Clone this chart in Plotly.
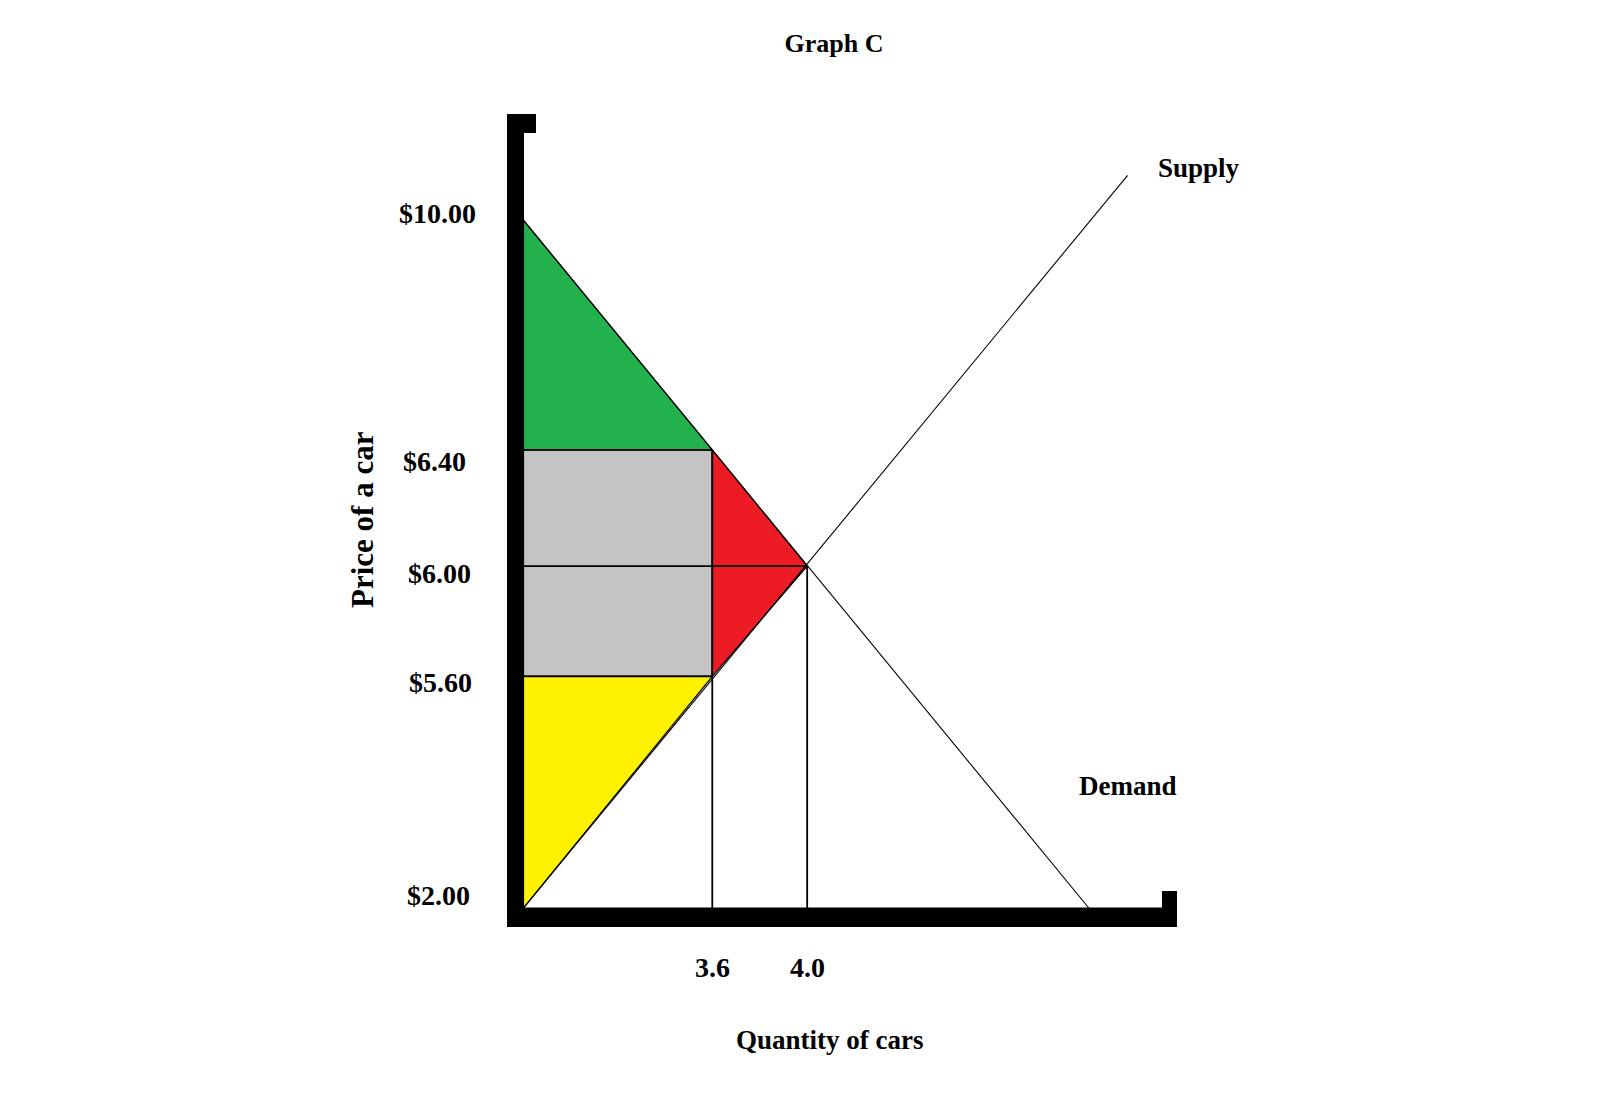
import plotly.graph_objects as go

# ---- data (schematic chart positions) ----
price_labels = ["$2.00", "$5.60", "$6.00", "$6.40", "$10.00"]
price_pos = [0.0, 2.27, 3.35, 4.49, 6.74]
qty_labels = ["3.6", "4.0"]
qty_pos = [1.85, 2.78]
demand_x = [0.0, 5.54]
demand_y = [6.74, 0.0]
supply_x = [0.0, 5.92]
supply_y = [0.0, 7.18]

p_lo, p_q36s, p_eq, p_q36d, p_top = price_pos
q36, q40 = qty_pos

W, H = 1600, 1093
PX = 102.04          # pixels per chart unit
X0, Y0 = 523.5, 908  # pixel location of origin
xr = [(0 - X0) / PX, (W - X0) / PX]
yr = [(Y0 - H) / PX, Y0 / PX]

FONT = "Liberation Serif"
fig = go.Figure()

def poly(xs, ys, color):
    fig.add_trace(go.Scatter(x=xs + [xs[0]], y=ys + [ys[0]], mode="lines", fill="toself",
                             fillcolor=color, line=dict(color="black", width=1.2),
                             hoverinfo="skip", showlegend=False))

# consumer surplus (green)
poly([0, q36, 0], [p_top, p_q36d, p_q36d], "#22B14C")
# gray rectangle
poly([0, q36, q36, 0], [p_q36s, p_q36s, p_q36d, p_q36d], "#C3C3C3")
# deadweight loss (red)
poly([q36, q40, q36], [p_q36d, p_eq, p_q36s], "#ED1C24")
# producer surplus (yellow)
poly([0, q36, 0], [p_q36s, p_q36s, p_lo], "#FFF200")

def seg(xs, ys, w=1.8):
    fig.add_trace(go.Scatter(x=xs, y=ys, mode="lines", line=dict(color="black", width=w),
                             hoverinfo="skip", showlegend=False))

seg([0, q40], [p_eq, p_eq])
seg([q36, q36], [p_lo, p_q36d])
seg([q40, q40], [p_lo, p_eq])
seg([0, q36], [p_q36d, p_q36d])
seg([0, q36], [p_q36s, p_q36s])
seg(demand_x, demand_y, 1.1)
seg(supply_x, supply_y, 1.1)

# thick axis frame
def u(px):
    return (px - X0) / PX

def v(py):
    return (Y0 - py) / PX

shapes = [
    dict(x0=u(507), x1=u(524), y0=v(927), y1=v(114)),
    dict(x0=u(515), x1=u(536), y0=v(133), y1=v(114)),
    dict(x0=u(507), x1=u(1177), y0=v(927), y1=v(907.5)),
    dict(x0=u(1162), x1=u(1177), y0=v(915), y1=v(891)),
]
for s in shapes:
    fig.add_shape(type="rect", xref="x", yref="y", fillcolor="black", line=dict(width=0), **s)

annos = []
label_nudge_y = [13, -6, -7, -12, 7]
label_nudge_x = [0, 2, 1, -4, 6]
for lab, pos, dy, dx in zip(price_labels, price_pos, label_nudge_y, label_nudge_x):
    annos.append(dict(x=u(472), y=pos, text=lab, xanchor="right", yanchor="middle",
                      yshift=dy, xshift=dx, showarrow=False,
                      font=dict(family=FONT, size=28, color="black", weight="bold")))
for lab, pos in zip(qty_labels, qty_pos):
    annos.append(dict(x=pos, y=v(967), text=lab, xanchor="center", yanchor="middle",
                      showarrow=False, font=dict(family=FONT, size=28, color="black", weight="bold")))
annos.append(dict(x=u(1199), y=v(168), text="Supply", showarrow=False,
                  font=dict(family=FONT, size=27, color="black", weight="bold")))
annos.append(dict(x=u(1128), y=v(786), text="Demand", showarrow=False,
                  font=dict(family=FONT, size=27, color="black", weight="bold")))
annos.append(dict(x=u(829), y=v(1040), text="Quantity of cars", showarrow=False,
                  font=dict(family=FONT, size=27, color="black", weight="bold")))
annos.append(dict(x=u(362), y=v(520), text="Price of a car", textangle=-90, showarrow=False,
                  font=dict(family=FONT, size=31, color="black", weight="bold")))

fig.update_layout(
    width=W, height=H, autosize=False,
    margin=dict(l=0, r=0, t=0, b=0),
    paper_bgcolor="white", plot_bgcolor="white",
    title=dict(text="Graph C", x=834 / W, y=1 - 43 / H, xanchor="center", yanchor="middle",
               font=dict(family=FONT, size=26, color="black", weight="bold")),
    xaxis=dict(range=xr, visible=False, fixedrange=True),
    yaxis=dict(range=yr, visible=False, fixedrange=True),
    annotations=annos,
    showlegend=False,
)

fig.write_html("out.html", config={"displayModeBar": False},
               post_script="document.body.style.margin='0';document.body.style.overflow='hidden';")
